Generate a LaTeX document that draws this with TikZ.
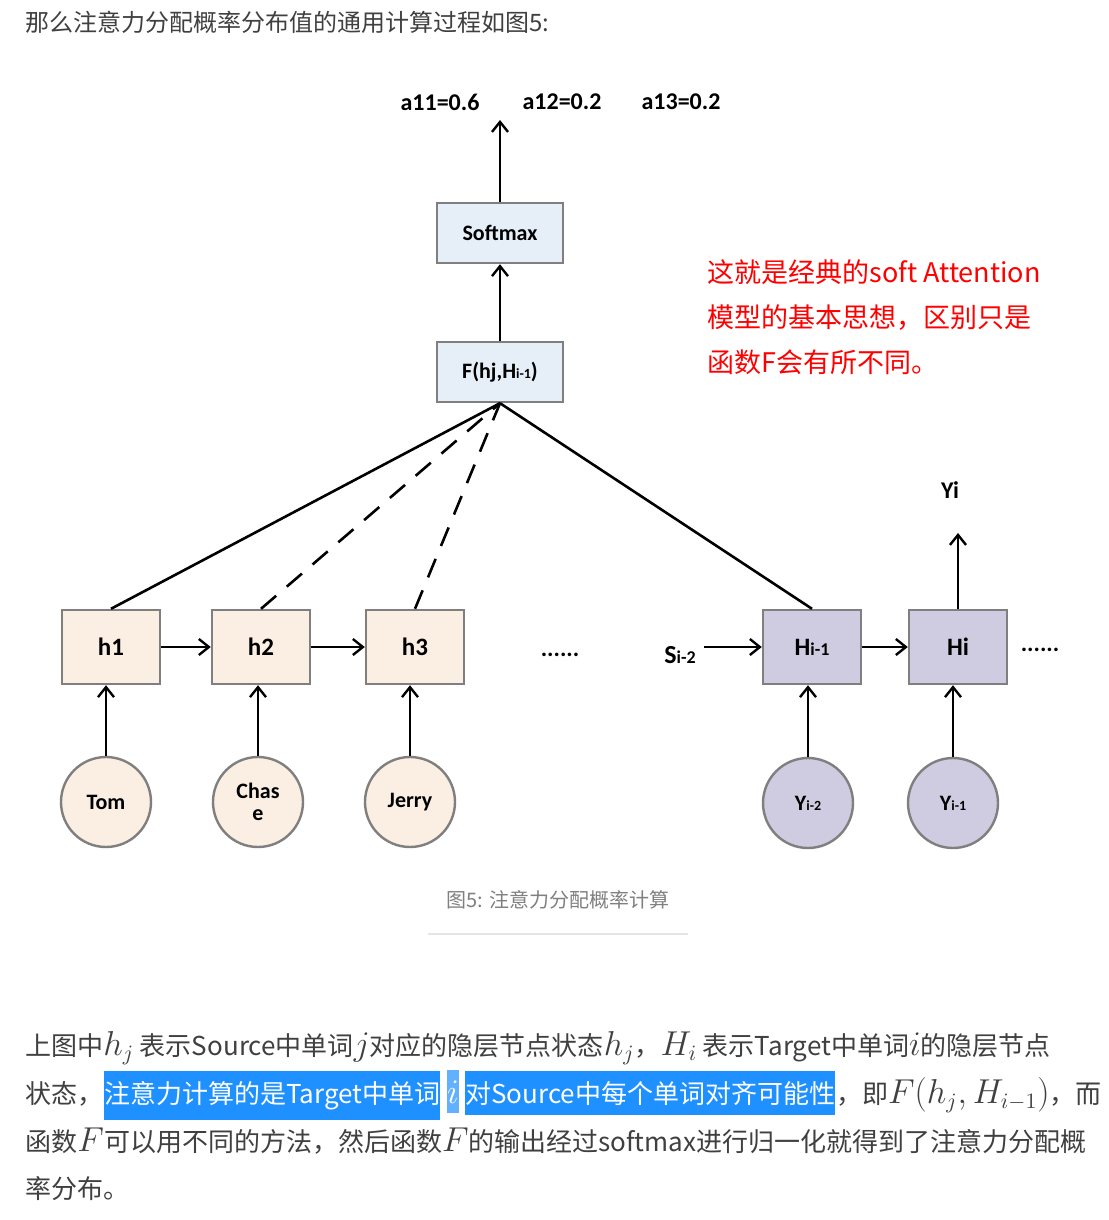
\documentclass[tikz,border=0pt]{standalone}
\usepackage{fontspec}
\newfontfamily\cjk{Noto Sans CJK SC}
\newfontfamily\lab{Carlito}
\usetikzlibrary{arrows.meta}
\definecolor{hfill}{HTML}{FBEFE4}
\definecolor{bfill}{HTML}{E6EEF8}
\definecolor{pfill}{HTML}{CFCBE0}
\definecolor{bord}{HTML}{7F7F7F}
\definecolor{hl}{HTML}{1E90FF}
\definecolor{txt}{HTML}{404040}
\newcommand{\Mth}[1]{{\fontsize{16}{18}\selectfont$#1$}}
\begin{document}
\begin{tikzpicture}[x=0.5pt,y=-0.5pt,
  box/.style={draw=bord,line width=1.2pt,minimum width=63pt,minimum height=37pt,inner sep=0pt,font=\lab\bfseries\fontsize{12.5}{13}\selectfont},
  sbox/.style={box,fill=bfill,minimum height=30pt,font=\lab\bfseries\fontsize{11}{12}\selectfont},
  hbox/.style={box,fill=hfill,minimum width=49pt},
  pbox/.style={box,fill=pfill,minimum width=49pt},
  circ/.style={circle,draw=bord,line width=1.2pt,minimum size=45pt,inner sep=0pt,align=center,font=\lab\bfseries\fontsize{11}{11}\selectfont},
  arr/.style={line width=1.2pt,-{Straight Barb[length=5pt,width=8pt]}},
  lbl/.style={font=\lab\bfseries\fontsize{12}{13}\selectfont,inner sep=0pt},
  par/.style={font=\cjk\fontsize{13}{15}\selectfont,text=txt,inner sep=0pt,anchor=base west},
  hi/.style={par,fill=hl,text=white,inner ysep=5pt,inner xsep=0pt}]
\useasboundingbox (0,0) rectangle (1108,1220);
\fill[white] (0,0) rectangle (1108,1220);
\node[par,font=\cjk\fontsize{12}{13}\selectfont] (top) at (25,32) {那么注意力分配概率分布值的通用计算过程如图5:};
% diagram
\node[sbox] (sm) at (500,233) {Softmax};
\node[sbox] (F) at (500,372) {F(hj,H{\scriptsize i-1})};
\node[hbox] (h1) at (111,647) {h1};
\node[hbox] (h2) at (261,647) {h2};
\node[hbox] (h3) at (415,647) {h3};
\node[pbox] (H1) at (812,647) {H{\fontsize{9}{9}\selectfont i-1}};
\node[pbox] (H) at (958,647) {Hi};
\node[circ,fill=hfill] (c1) at (106,802) {Tom};
\node[circ,fill=hfill] (c2) at (258,802) {Chas\\e};
\node[circ,fill=hfill] (c3) at (410,802) {Jerry};
\node[circ,fill=pfill] (c4) at (808,803) {Y{\scriptsize i-2}};
\node[circ,fill=pfill] (c5) at (953,803) {Y{\scriptsize i-1}};
\node[lbl] (a11) at (440,102) {a11=0.6};
\node[lbl] (a12) at (562,102) {a12=0.2};
\node[lbl] (a13) at (681,102) {a13=0.2};
\coordinate (topa) at (500,120);
\node[lbl] (yi) at (950,490) {Yi};
\coordinate (yia) at (958,533);
\node[lbl] (d1) at (560,655) {......};
\node[lbl,font=\lab\bfseries\fontsize{13}{13}\selectfont] (si) at (680,655) {S{\fontsize{9}{9}\selectfont i-2}};
\node[lbl] (d2) at (1040,650) {......};
\draw[arr] (sm.north) -- (topa);
\draw[arr] (F.north) -- (sm.south);
\draw[arr] (H.north) -- (yia);
\draw[line width=1.3pt] (h1.north) -- (F.south);
\draw[line width=1.3pt,dash pattern=on 10pt off 7pt] (h2.north) -- (F.south);
\draw[line width=1.3pt,dash pattern=on 10pt off 7pt] (h3.north) -- (F.south);
\draw[line width=1.3pt] (H1.north) -- (F.south);
\draw[arr] (h1) -- (h2);
\draw[arr] (h2) -- (h3);
\draw[arr] ([xshift=4pt]si.east|-H1.west) -- (H1.west);
\draw[arr] (H1) -- (H);
\draw[arr] (c1.north) -- (c1.north|-h1.south);
\draw[arr] (c2.north) -- (c2.north|-h2.south);
\draw[arr] (c3.north) -- (c3.north|-h3.south);
\draw[arr] (c4.north) -- (c4.north|-H1.south);
\draw[arr] (c5.north) -- (c5.north|-H.south);
\node[par,text=red,font=\cjk\fontsize{13.5}{15}\selectfont] (r1) at (707,282) {这就是经典的soft Attention};
\node[par,text=red,font=\cjk\fontsize{13.5}{15}\selectfont] (r2) at (707,327) {模型的基本思想，区别只是};
\node[par,text=red,font=\cjk\fontsize{13.5}{15}\selectfont] (r3) at (707,372) {函数F会有所不同。};
\node[font=\cjk\fontsize{10}{12}\selectfont,text=gray] (cap) at (558,900) {图5: 注意力分配概率计算};
\draw[black!10,line width=0.8pt] (428,934) -- (688,934);
% paragraph
\node[par] (l1) at (25,1055) {上图中\Mth{h_j} 表示Source中单词\Mth{j}对应的隐层节点状态\Mth{h_j}，\Mth{H_i} 表示Target中单词\Mth{i}的隐层节点};
\node[par] (l2a) at (25,1103) {状态，};
\node[hi,anchor=base west] (l2b) at (l2a.base east) {注意力计算的是Target中单词};
\node[hi,anchor=base west,fill=hl!70] (l2c) at ([xshift=3pt]l2b.base east) {\Mth{i}};
\node[hi,anchor=base west] (l2d) at ([xshift=3pt]l2c.base east) {对Source中每个单词对齐可能性};
\node[par,anchor=base west] (l2e) at (l2d.base east) {，即\Mth{F(h_j,H_{i-1})}，而};
\node[par] (l3) at (25,1151) {函数\Mth{F}可以用不同的方法，然后函数\Mth{F}的输出经过softmax进行归一化就得到了注意力分配概};
\node[par] (l4) at (25,1198) {率分布。};
\end{tikzpicture}
\end{document}
